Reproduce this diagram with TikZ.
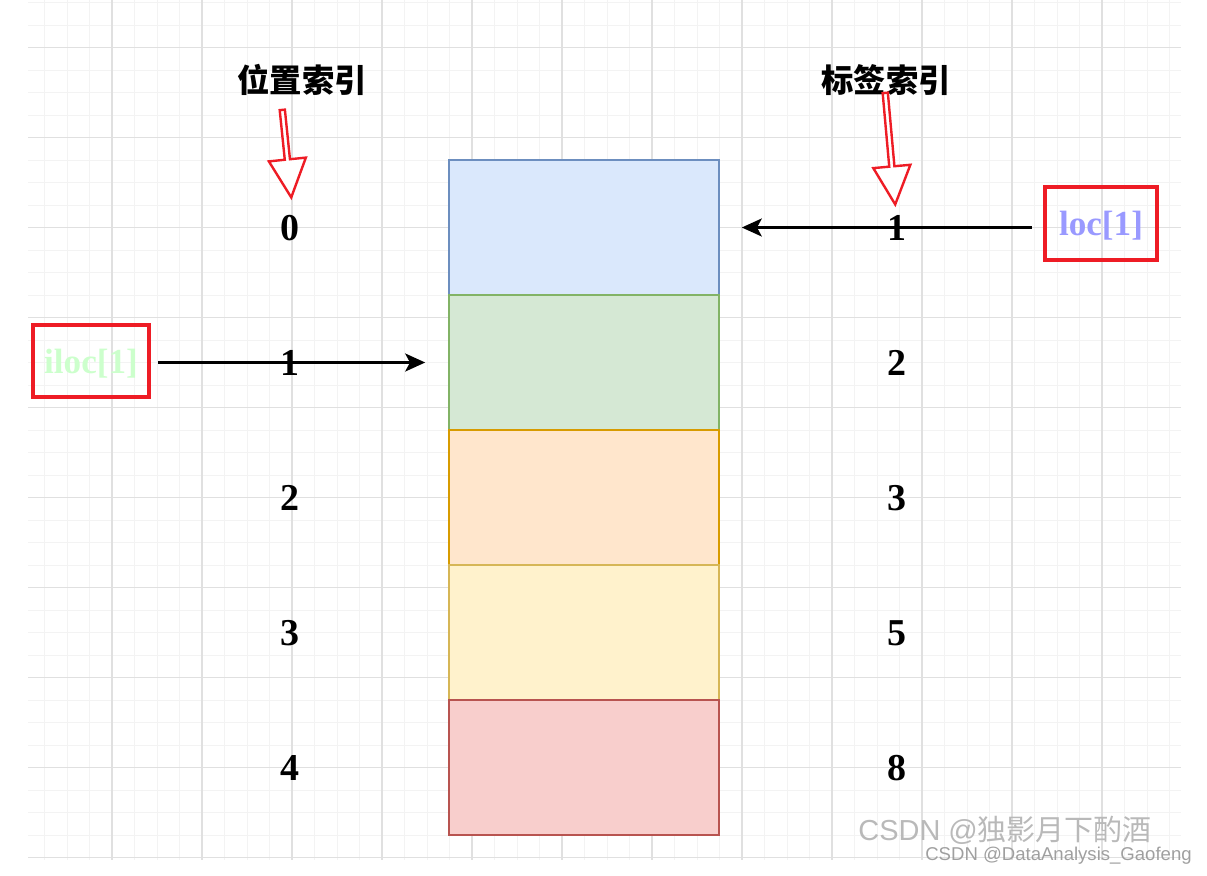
\documentclass[tikz,border=0pt]{standalone}
\usepackage{fontspec}
\setmainfont{Liberation Serif}
\newfontfamily\cjk{Noto Sans CJK SC}
\newfontfamily\wmfont{Liberation Sans}
\usetikzlibrary{arrows.meta,shapes.arrows}

\definecolor{gridMajor}{HTML}{E0E0E0}
\definecolor{gridMinor}{HTML}{F3F3F3}
\definecolor{markRed}{HTML}{EE1C25}
\definecolor{blueFill}{HTML}{DAE8FC}\definecolor{blueLine}{HTML}{6C8EBF}
\definecolor{greenFill}{HTML}{D5E8D4}\definecolor{greenLine}{HTML}{82B366}
\definecolor{orangeFill}{HTML}{FFE6CC}\definecolor{orangeLine}{HTML}{D79B00}
\definecolor{yellowFill}{HTML}{FFF2CC}\definecolor{yellowLine}{HTML}{D6B656}
\definecolor{redFill}{HTML}{F8CECC}\definecolor{redLine}{HTML}{B85450}
\definecolor{ilocText}{HTML}{CCFFCC}
\definecolor{locText}{HTML}{9999FF}

\begin{document}
\begin{tikzpicture}[x=0.25mm, y=-0.25mm,
            cell/.style={rectangle, draw, line width=0.4mm, minimum width=67.5mm, minimum height=33.75mm},
            idx/.style={font=\bfseries\fontsize{27}{32}\selectfont},
            head/.style={font=\cjk\bfseries\fontsize{23}{28}\selectfont},
            callout/.style={rectangle, draw=markRed, line width=1mm, text depth=0pt, font=\bfseries\fontsize{25}{30}\selectfont},
            arrow/.style={-{Stealth[length=5mm, width=4.5mm, inset=1.2mm]}, line width=0.6mm},
            hollow/.style={single arrow, draw=markRed, fill=white, line width=0.6mm, inner xsep=0pt, inner ysep=0.35mm, single arrow head extend=4mm, single arrow tip angle=52, sloped, midway}
            ]
            \useasboundingbox (0,0) rectangle (1207,875);
            
            % Grid paper
            \foreach \gx in {44.5,67,...,1181} \draw[gridMinor, line width=0.25mm] (\gx,0) -- (\gx,860);
            \foreach \gy in {2.5,25,...,858} \draw[gridMinor, line width=0.25mm] (28,\gy) -- (1181,\gy);
            \foreach \gx in {112,202,...,1102} \draw[gridMajor, line width=0.3mm] (\gx,0) -- (\gx,860);
            \foreach \gy in {47.5,137.5,...,858} \draw[gridMajor, line width=0.3mm] (28,\gy) -- (1181,\gy);
            
            % Series cells
            \node[cell, fill=blueFill, draw=blueLine] (cell0) at (584,227.5) {};
            \node[cell, fill=greenFill, draw=greenLine] (cell1) at (584,362.5) {};
            \node[cell, fill=orangeFill, draw=orangeLine] (cell2) at (584,497.5) {};
            \node[cell, fill=yellowFill, draw=yellowLine] (cell3) at (584,632.5) {};
            \node[cell, fill=redFill, draw=redLine] (cell4) at (584,767.5) {};
            
            % Headings
            \node[head] (posHead) at (302,80) {位置索引};
            \node[head] (lblHead) at (886,80) {标签索引};
            
            % Hollow markers
            \coordinate (posTail) at (282,107);
            \coordinate (posTip) at (291,195);
            \coordinate (lblTail) at (885,90);
            \coordinate (lblTip) at (895,202);
            \path (posTail) -- (posTip) node[hollow, minimum height=22mm] (posMark) {};
            \path (lblTail) -- (lblTip) node[hollow, minimum height=28mm] (lblMark) {};
            
            % Callouts
            \node[callout, minimum width=29mm, minimum height=18mm] (ilocBox) at (91,361) {\textcolor{ilocText}{iloc[1]}};
            \node[callout, minimum width=28mm, minimum height=18.25mm] (locBox) at (1101,223.5) {\textcolor{locText}{loc[1]}};
            
            % Arrows
            \draw[arrow, shorten <=1.75mm, shorten >=5.75mm] (ilocBox.east |- cell1) -- (cell1.west);
            \draw[arrow, shorten <=2.75mm, shorten >=5.5mm] (locBox.west |- cell0) -- (cell0.east);
            
            % Position index
            \node[idx] (p0) at (290,228) {0};
            \node[idx] (p1) at (290,363) {1};
            \node[idx] (p2) at (290,498) {2};
            \node[idx] (p3) at (290,633) {3};
            \node[idx] (p4) at (290,768) {4};
            
            % Label index
            \node[idx] (l1) at (897,228) {1};
            \node[idx] (l2) at (897,363) {2};
            \node[idx] (l3) at (897,498) {3};
            \node[idx] (l5) at (897,633) {5};
            \node[idx] (l8) at (897,768) {8};
            
            % Watermark
            \node[text=gray!55, font=\fontsize{20.6}{24}\selectfont] (wmCn) at (1005,830) {{\wmfont CSDN @}{\cjk 独影月下酌酒}};
            \node[text=gray!75, font=\wmfont\fontsize{13.2}{16}\selectfont, anchor=east, inner sep=0pt] (wmEn) at (1192,856) {CSDN @DataAnalysis\_Gaofeng};
            
        \end{tikzpicture}
\end{document}
